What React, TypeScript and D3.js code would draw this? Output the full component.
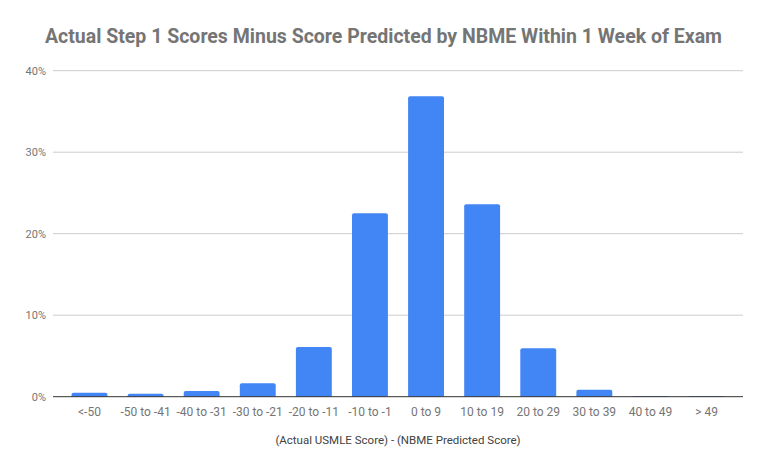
import { useEffect, useRef } from 'react';
import * as d3 from 'd3';

const categories = [
  '<-50', '-50 to -41', '-40 to -31', '-30 to -21', '-20 to -11', '-10 to -1',
  '0 to 9', '10 to 19', '20 to 29', '30 to 39', '40 to 49', '> 49',
];
const shares = [0.5, 0.35, 0.7, 1.65, 6.1, 22.5, 36.85, 23.6, 5.95, 0.85, 0.1, 0.1];
const yTicks = [0, 10, 20, 30, 40];

const W = 768;
const H = 474;
const margin = { top: 70.7, right: 25, bottom: 77.3, left: 53 };
const BLUE = '#4285f4';
const FONT = 'Roboto, "Noto Sans", sans-serif';

export default function App() {
  const svgRef = useRef<SVGSVGElement>(null);

  useEffect(() => {
    const svg = d3.select(svgRef.current);
    if (!svg.node()) return;
    svg.selectAll('*').remove();

    const x0 = margin.left;
    const x1 = W - margin.right;
    const y0 = H - margin.bottom;
    const y1 = margin.top;

    const x = d3.scaleBand<string>().domain(categories).range([x0, x1]).paddingInner(0.36).paddingOuter(0.33);
    const y = d3.scaleLinear().domain([0, 40]).range([y0, y1]);

    svg.append('rect').attr('width', W).attr('height', H).attr('fill', '#fff');

    // title
    svg.append('text')
      .attr('x', W / 2 - 0.5)
      .attr('y', 42.5)
      .attr('text-anchor', 'middle')
      .attr('font-family', FONT)
      .attr('font-size', 19.5)
      .attr('font-weight', 'bold')
      .attr('fill', '#757575')
      .text('Actual Step 1 Scores Minus Score Predicted by NBME Within 1 Week of Exam');

    // gridlines + y labels
    const grid = svg.append('g');
    yTicks.forEach((t) => {
      if (t > 0) {
        grid.append('line')
          .attr('x1', x0).attr('x2', x1)
          .attr('y1', y(t)).attr('y2', y(t))
          .attr('stroke', '#cccccc').attr('stroke-width', 1);
      }
      grid.append('text')
        .attr('x', x0 - 7)
        .attr('y', y(t))
        .attr('dy', '0.35em')
        .attr('text-anchor', 'end')
        .attr('font-family', FONT)
        .attr('font-size', 11)
        .attr('fill', '#757575')
        .text(`${t}%`);
    });

    // bars with slightly rounded tops
    const r = 2;
    svg.append('g')
      .selectAll('path')
      .data(categories.map((c, i) => ({ c, v: shares[i] })))
      .join('path')
      .attr('fill', BLUE)
      .attr('d', (d) => {
        const bx = x(d.c)!;
        const bw = x.bandwidth();
        const top = y(d.v);
        const h = y0 - top;
        const rr = Math.min(r, h);
        return `M${bx},${y0}V${top + rr}Q${bx},${top} ${bx + rr},${top}H${bx + bw - rr}Q${bx + bw},${top} ${bx + bw},${top + rr}V${y0}Z`;
      });

    // baseline
    svg.append('line')
      .attr('x1', x0).attr('x2', x1)
      .attr('y1', y0).attr('y2', y0)
      .attr('stroke', '#333333').attr('stroke-width', 1);

    // x labels
    svg.append('g')
      .selectAll('text')
      .data(categories)
      .join('text')
      .attr('x', (d) => x(d)! + x.bandwidth() / 2)
      .attr('y', y0 + 15)
      .attr('dy', '0.35em')
      .attr('text-anchor', 'middle')
      .attr('font-family', FONT)
      .attr('font-size', 12)
      .attr('fill', '#757575')
      .text((d) => d);

    // x axis title
    svg.append('text')
      .attr('x', (x0 + x1) / 2)
      .attr('y', y0 + 43)
      .attr('dy', '0.35em')
      .attr('text-anchor', 'middle')
      .attr('font-family', FONT)
      .attr('font-size', 11.5)
      .attr('fill', '#424242')
      .text('(Actual USMLE Score) - (NBME Predicted Score)');
  }, []);

  return (
    <svg
      ref={svgRef}
      width={W}
      height={H}
      style={{ position: 'absolute', left: 0, top: 0, display: 'block' }}
    />
  );
}
